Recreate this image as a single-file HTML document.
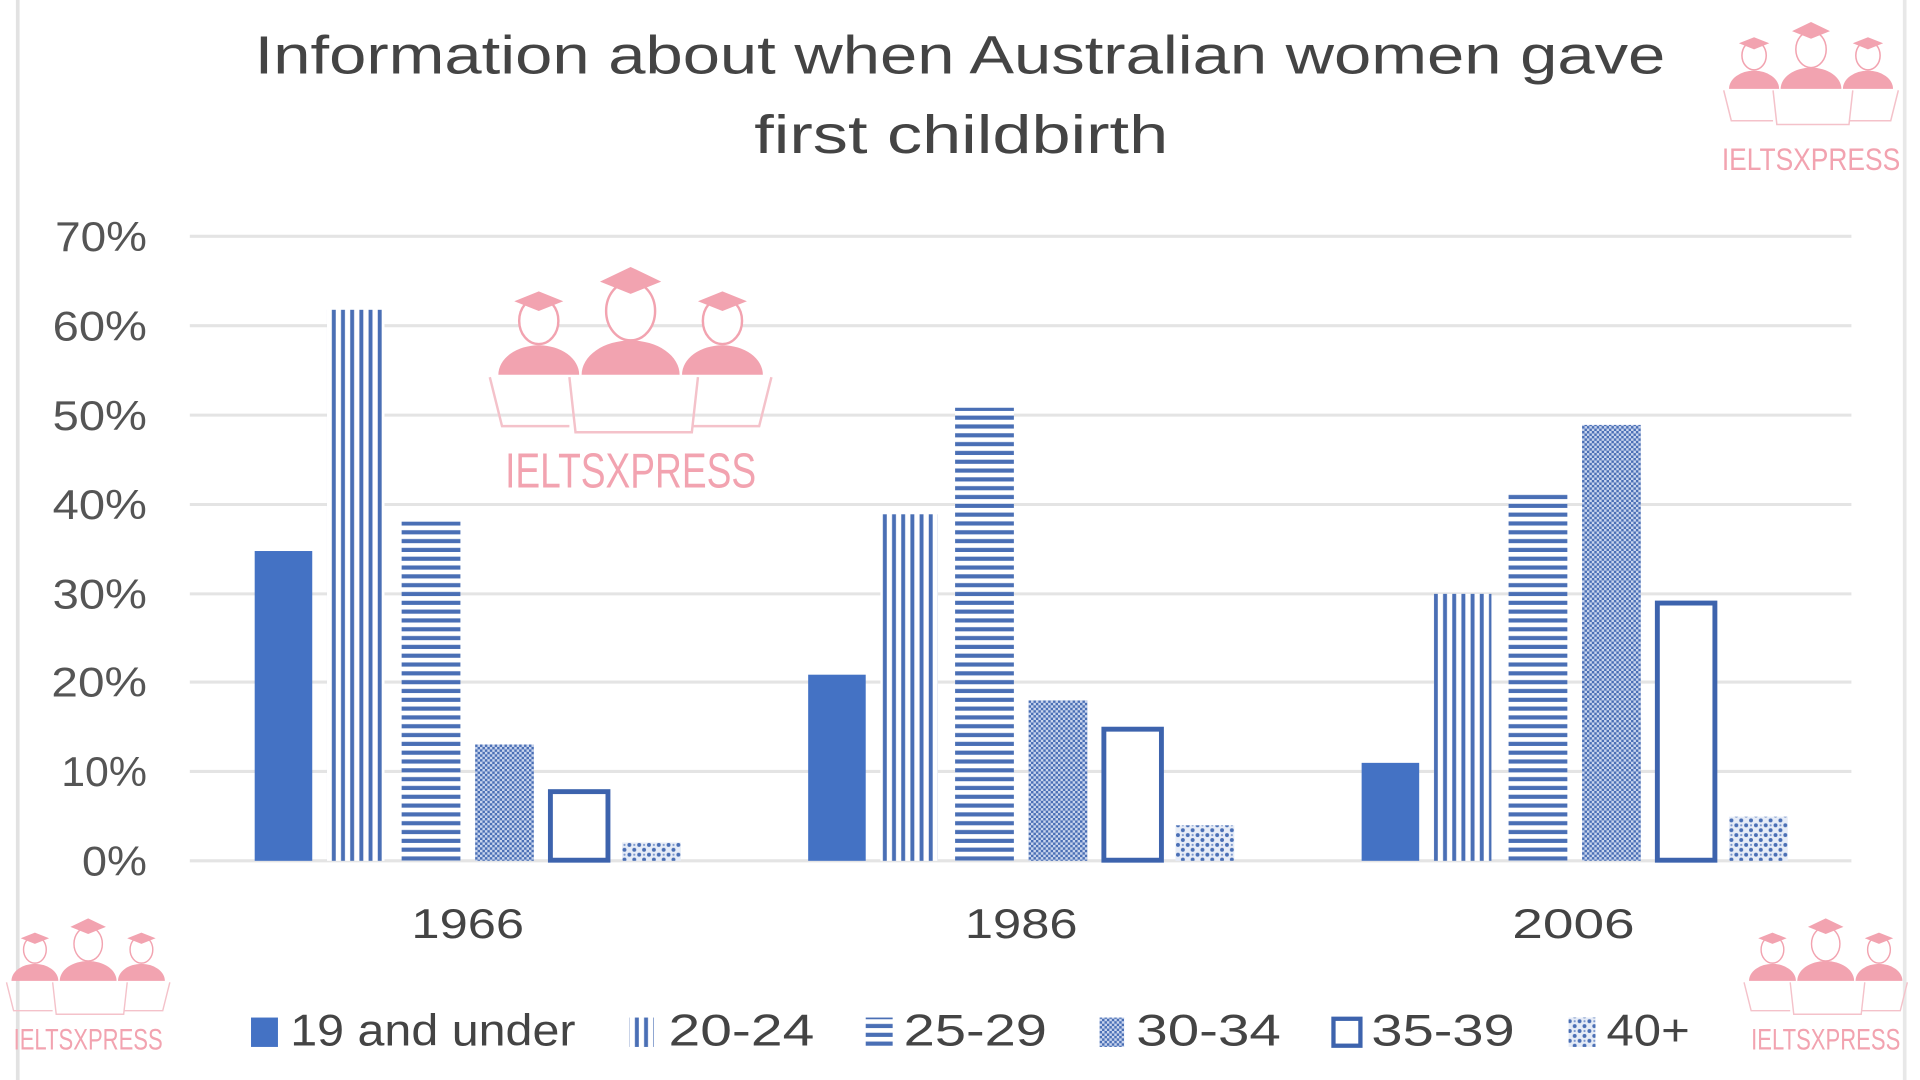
<!DOCTYPE html>
<html><head><meta charset="utf-8"><style>
html,body{margin:0;padding:0;background:#fff;}
svg{display:block;}
text{font-family:"Liberation Sans",sans-serif;}
</style></head><body>
<svg width="1920" height="1080" viewBox="0 0 1568 882" xmlns="http://www.w3.org/2000/svg">
<defs>
<pattern id="pv" width="7.5" height="10" patternUnits="userSpaceOnUse"><rect width="7.5" height="10" fill="#fff"/><rect x="1" width="3.2" height="10" fill="#4a6fb5"/></pattern>
<pattern id="ph" width="10" height="7.2" patternUnits="userSpaceOnUse"><rect width="10" height="7.2" fill="#fff"/><rect y="1" width="10" height="3.4" fill="#4a6fb5"/></pattern>
<pattern id="pc" width="4" height="4" patternUnits="userSpaceOnUse"><rect width="4" height="4" fill="#c9d5ee"/><rect width="2" height="2" fill="#4a6fb5"/><rect x="2" y="2" width="2" height="2" fill="#4a6fb5"/></pattern>
<pattern id="pd" width="8" height="8" patternUnits="userSpaceOnUse"><rect width="8" height="8" fill="#e6ecf7"/><circle cx="2" cy="2" r="1.6" fill="#4a6fb5"/><circle cx="6" cy="6" r="1.6" fill="#4a6fb5"/><circle cx="6" cy="2" r="0.9" fill="#7d98cc"/></pattern>
<g id="wm-shape">
<path d="M-108,88 A33,24 0 0 1 -42,88 Z M-40,88 A40,28 0 0 1 40,88 Z M42,88 A33,24 0 0 1 108,88 Z" fill="#f2a3b0"/>
<ellipse cx="-75" cy="44" rx="16" ry="19" fill="#fff" stroke="#f2a3b0" stroke-width="2"/>
<ellipse cx="0" cy="36" rx="20" ry="24" fill="#fff" stroke="#f2a3b0" stroke-width="2"/>
<ellipse cx="75" cy="44" rx="16" ry="19" fill="#fff" stroke="#f2a3b0" stroke-width="2"/>
<path d="M-95,28 L-75,20 L-55,28 L-75,36 Z M-25,12 L0,0 L25,12 L0,22 Z M55,28 L75,20 L95,28 L75,36 Z" fill="#f2a3b0"/>
<path d="M-115,90 L-105,130 L-50,130 M-50,90 L-45,135 L50,135 L55,90 M50,130 L105,130 L115,90" fill="none" stroke="#f4c2ca" stroke-width="2"/>
</g>
</defs>
<rect width="1568" height="882" fill="#fff"/>
<rect x="13" y="0" width="3" height="882" fill="#e2e2e2"/>
<rect x="1554" y="0" width="3" height="882" fill="#e8e8e8"/>
<g font-size="44" fill="#444" text-anchor="middle">
<text x="784" y="60" textLength="1152" lengthAdjust="spacingAndGlyphs">Information about when Australian women gave</text>
<text x="785" y="125" textLength="338" lengthAdjust="spacingAndGlyphs">first childbirth</text>
</g>
<g stroke="#e4e4e4" stroke-width="2.5">
<line x1="155" x2="1512" y1="193" y2="193"/><line x1="155" x2="1512" y1="266" y2="266"/>
<line x1="155" x2="1512" y1="339" y2="339"/><line x1="155" x2="1512" y1="412" y2="412"/>
<line x1="155" x2="1512" y1="485" y2="485"/><line x1="155" x2="1512" y1="557" y2="557"/>
<line x1="155" x2="1512" y1="630" y2="630"/><line x1="155" x2="1512" y1="703" y2="703"/>
</g>
<g font-size="34" fill="#555" text-anchor="end">
<text x="120" y="205" textLength="75" lengthAdjust="spacingAndGlyphs">70%</text>
<text x="120" y="278" textLength="77" lengthAdjust="spacingAndGlyphs">60%</text>
<text x="120" y="351" textLength="77" lengthAdjust="spacingAndGlyphs">50%</text>
<text x="120" y="424" textLength="77" lengthAdjust="spacingAndGlyphs">40%</text>
<text x="120" y="497" textLength="77" lengthAdjust="spacingAndGlyphs">30%</text>
<text x="120" y="569" textLength="78" lengthAdjust="spacingAndGlyphs">20%</text>
<text x="120" y="642" textLength="70" lengthAdjust="spacingAndGlyphs">10%</text>
<text x="120" y="715" textLength="53" lengthAdjust="spacingAndGlyphs">0%</text>
</g>
<rect x="208" y="450" width="47" height="253" fill="#4472c4"/>
<rect x="267" y="253" width="47" height="450" fill="url(#pv)"/>
<rect x="328" y="426" width="48" height="277" fill="url(#ph)"/>
<rect x="388" y="608" width="48" height="95" fill="url(#pc)"/>
<rect x="449.5" y="646.5" width="47" height="56" fill="#fff" stroke="#3d63ad" stroke-width="4"/>
<rect x="508" y="688" width="48" height="15" fill="url(#pd)"/>
<rect x="660" y="551" width="47" height="152" fill="#4472c4"/>
<rect x="719" y="420" width="47" height="283" fill="url(#pv)"/>
<rect x="780" y="333" width="48" height="370" fill="url(#ph)"/>
<rect x="840" y="572" width="48" height="131" fill="url(#pc)"/>
<rect x="901.5" y="595.5" width="47" height="107" fill="#fff" stroke="#3d63ad" stroke-width="4"/>
<rect x="960" y="674" width="48" height="29" fill="url(#pd)"/>
<rect x="1112" y="623" width="47" height="80" fill="#4472c4"/>
<rect x="1171" y="485" width="47" height="218" fill="url(#pv)"/>
<rect x="1232" y="401" width="48" height="302" fill="url(#ph)"/>
<rect x="1292" y="347" width="48" height="356" fill="url(#pc)"/>
<rect x="1353.5" y="492.5" width="47" height="210" fill="#fff" stroke="#3d63ad" stroke-width="4"/>
<rect x="1412" y="667" width="48" height="36" fill="url(#pd)"/>
<g font-size="34" fill="#444" text-anchor="middle">
<text x="382" y="766" textLength="92" lengthAdjust="spacingAndGlyphs">1966</text>
<text x="834" y="766" textLength="92" lengthAdjust="spacingAndGlyphs">1986</text>
<text x="1285" y="766" textLength="100" lengthAdjust="spacingAndGlyphs">2006</text>
</g>
<g font-size="36" fill="#444">
<rect x="205" y="831" width="22" height="24" fill="#4472c4"/><text x="237" y="854" textLength="233" lengthAdjust="spacingAndGlyphs">19 and under</text>
<rect x="514" y="831" width="20" height="24" fill="url(#pv)"/><text x="546" y="854" textLength="119" lengthAdjust="spacingAndGlyphs">20-24</text>
<rect x="707" y="831" width="22" height="24" fill="url(#ph)"/><text x="738" y="854" textLength="117" lengthAdjust="spacingAndGlyphs">25-29</text>
<rect x="898" y="831" width="20" height="24" fill="url(#pc)"/><text x="928" y="854" textLength="118" lengthAdjust="spacingAndGlyphs">30-34</text>
<rect x="1089" y="832" width="22" height="22" fill="#fff" stroke="#3d63ad" stroke-width="3.5"/><text x="1120" y="854" textLength="117" lengthAdjust="spacingAndGlyphs">35-39</text>
<rect x="1281" y="831" width="22" height="24" fill="url(#pd)"/><text x="1312" y="854" textLength="68" lengthAdjust="spacingAndGlyphs">40+</text>
</g>
<g fill="#f2a3b0">
<g transform="translate(515,218)"><use href="#wm-shape"/>
<text x="0" y="180" font-size="40" text-anchor="middle" textLength="205" lengthAdjust="spacingAndGlyphs">IELTSXPRESS</text></g>
<g transform="translate(1479,18) scale(0.62)"><use href="#wm-shape"/>
<text x="0" y="195" font-size="42" text-anchor="middle" textLength="235" lengthAdjust="spacingAndGlyphs">IELTSXPRESS</text></g>
<g transform="translate(72,750) scale(0.58)"><use href="#wm-shape"/>
<text x="0" y="185" font-size="42" text-anchor="middle" textLength="210" lengthAdjust="spacingAndGlyphs">IELTSXPRESS</text></g>
<g transform="translate(1491,750) scale(0.58)"><use href="#wm-shape"/>
<text x="0" y="185" font-size="42" text-anchor="middle" textLength="210" lengthAdjust="spacingAndGlyphs">IELTSXPRESS</text></g>
</g>
</svg>
</body></html>
